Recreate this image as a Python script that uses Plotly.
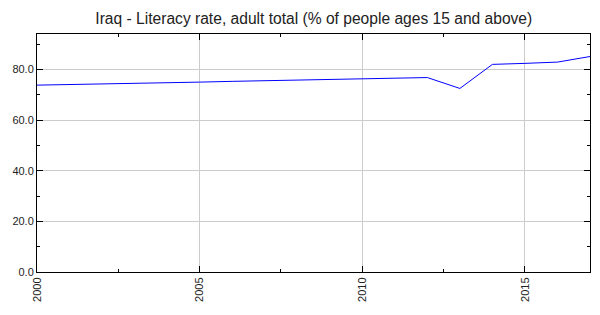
import plotly.graph_objects as go

years = list(range(2000, 2018))
literacy = [73.8, 74.0, 74.3, 74.5, 74.8, 75.0, 75.3, 75.5, 75.8, 76.0, 76.3, 76.5, 76.8,
            72.5, 82.0, 82.4, 82.9, 85.1]
title_text = "Iraq - Literacy rate, adult total (% of people ages 15 and above)"

fig = go.Figure(go.Scatter(x=years, y=literacy, mode="lines",
                           line=dict(color="#0000ff", width=1)))

axis_common = dict(showline=True, linecolor="black", linewidth=1, mirror="allticks",
                   ticks="inside", ticklen=6, tickcolor="black", showgrid=True,
                   gridcolor="#cccccc", gridwidth=1, zeroline=False,
                   tickfont=dict(family="Arial, Liberation Sans", size=11, color="#222222"))

fig.update_layout(
    width=600, height=315,
    margin=dict(l=37, r=10, t=34, b=43),
    paper_bgcolor="white", plot_bgcolor="white",
    showlegend=False,
    title=dict(text=title_text, x=0.523, xanchor="center", y=0.94, yanchor="middle",
               font=dict(family="Arial, Liberation Sans", size=15.6, color="#222222")),
    xaxis=dict(range=[2000, 2017], tick0=2000, dtick=5, tickangle=-90,
               minor=dict(dtick=2.5, tick0=2000, ticks="inside", ticklen=3, tickcolor="black", showgrid=False),
               **axis_common),
    yaxis=dict(range=[0, 94], tick0=0, dtick=20, tickformat=".1f",
               minor=dict(dtick=10, tick0=0, ticks="inside", ticklen=3, tickcolor="black", showgrid=False),
               **axis_common),
)

fig.write_html("out.html")
